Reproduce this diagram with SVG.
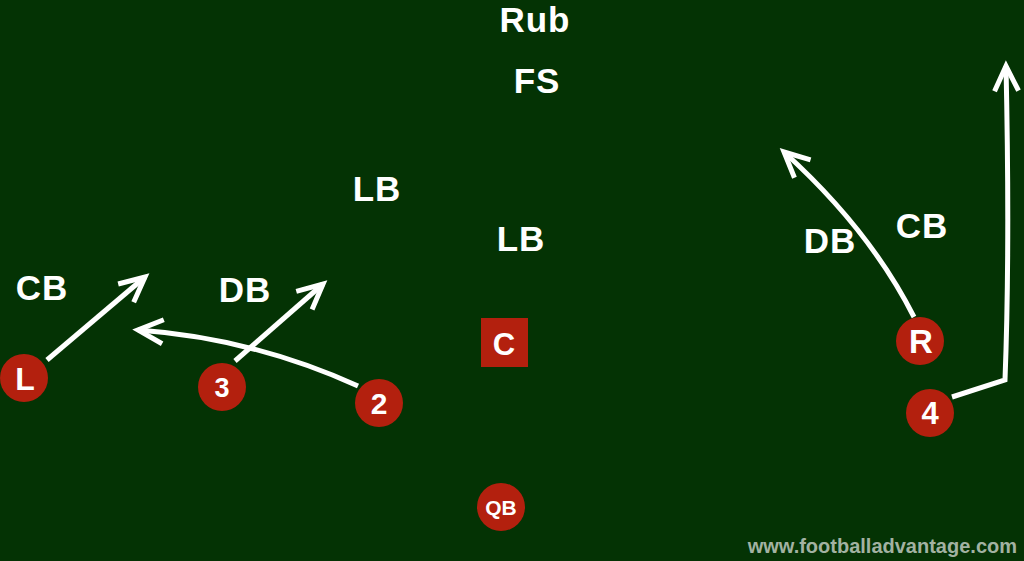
<svg xmlns="http://www.w3.org/2000/svg" width="1024" height="561" viewBox="0 0 1024 561">
<style>
.lbl{font-family:"Liberation Sans",Arial,sans-serif;font-weight:bold;font-size:35px;fill:#fff;text-anchor:middle;letter-spacing:1px}
.pl{fill:#b3200e}
.pt{font-family:"Liberation Sans",Arial,sans-serif;font-weight:bold;font-size:30px;fill:#fff;text-anchor:middle}
.rt{fill:none;stroke:#fff;stroke-width:5;marker-end:url(#ah)}
.wm{font-family:"Liberation Sans",Arial,sans-serif;font-weight:bold;font-size:20px;fill:#a2b2a2;text-anchor:end}
</style>
<defs>
<marker id="ah" markerUnits="userSpaceOnUse" viewBox="-40 -20 50 40" refX="0" refY="0" markerWidth="50" markerHeight="40" orient="auto" overflow="visible">
<path d="M-25,-12 L0,0 L-25,12" fill="none" stroke="#fff" stroke-width="5"/>
</marker>
</defs>
<rect width="1024" height="561" fill="#043304"/>
<g id="defense">
<text class="lbl" x="535" y="32">Rub</text>
<text class="lbl" x="537" y="93">FS</text>
<text class="lbl" x="377" y="201">LB</text>
<text class="lbl" x="521" y="251">LB</text>
<text class="lbl" x="42" y="300">CB</text>
<text class="lbl" x="245" y="302">DB</text>
<text class="lbl" x="830" y="253">DB</text>
<text class="lbl" x="922" y="238">CB</text>
</g>
<g id="connectors">
<path class="rt" d="M47,360 L145,277"/>
<path class="rt" d="M235,361 L323,284"/>
<path class="rt" d="M358,386 Q252,338 138,330"/>
<path class="rt" d="M914,317 Q870,230 784,152"/>
<path class="rt" d="M952,397 L1005,380 Q1010,250 1006,66"/>
</g>
<g id="node-L"><circle class="pl" cx="24" cy="378" r="24"/><text class="pt" x="25" y="390" style="font-size:32px">L</text></g>
<g id="node-3"><circle class="pl" cx="222" cy="387" r="24"/><text class="pt" x="222" y="397" style="font-size:27px">3</text></g>
<g id="node-2"><circle class="pl" cx="379" cy="403" r="24"/><text class="pt" x="379" y="414">2</text></g>
<g id="node-C"><rect class="pl" x="481" y="318" width="47" height="49"/><text class="pt" x="504" y="355" style="font-size:31px">C</text></g>
<g id="node-QB"><circle class="pl" cx="501" cy="507" r="24"/><text class="pt" x="501" y="515" style="font-size:21px">QB</text></g>
<g id="node-R"><circle class="pl" cx="920" cy="341" r="24"/><text class="pt" x="921" y="353" style="font-size:33px">R</text></g>
<g id="node-4"><circle class="pl" cx="930" cy="413" r="24"/><text class="pt" x="930" y="424" style="font-size:31px">4</text></g>
<text class="wm" x="1017" y="553">www.footballadvantage.com</text>
</svg>
